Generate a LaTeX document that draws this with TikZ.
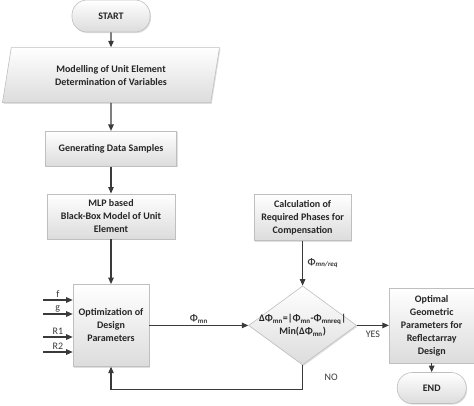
\documentclass[tikz,border=0pt]{standalone}
\usepackage{fontspec}
\setmainfont{Carlito}
\usetikzlibrary{positioning,arrows.meta,shapes.geometric,shadows}
\definecolor{Edge}{HTML}{BFBFBF}
\definecolor{Ink}{HTML}{3A3A3A}
\definecolor{Shade}{HTML}{DCDCDC}
\newcommand{\Body}{\fontsize{10}{13}\selectfont}
\tikzset{
  block/.style={draw=Edge, line width=0.6pt, top color=white, bottom color=Shade,
                align=center, inner sep=2pt, text=black!85, font=\Body\bfseries,
                drop shadow={opacity=0.25, shadow xshift=1pt, shadow yshift=-1.2pt}},
  terminal/.style={block, rounded corners=15pt},
  iobox/.style={block, trapezium, trapezium left angle=70, trapezium right angle=110,
                trapezium stretches body},
  decision/.style={block, diamond, aspect=1.37, inner sep=-2.5pt},
  flow/.style={-{Triangle[length=6.5pt,width=5.5pt]}, line width=1.1pt, Ink},
  tag/.style={font=\Body, text=Ink, inner sep=1.5pt},
}

\begin{document}
\begin{tikzpicture}
  \useasboundingbox (0,0) rectangle (474pt,-405pt);
  \node[terminal, minimum width=78pt, minimum height=32pt] (start) at (111pt,-16pt) {START};
  \node[iobox, minimum width=217pt, minimum height=55pt, below=15pt of start] (model)
    {Modelling of Unit Element\\Determination of Variables};
  \node[block, minimum width=131pt, minimum height=35pt, below=28pt of model] (gen)
    {Generating Data Samples};
  \node[block, minimum width=128pt, minimum height=45pt, below=27pt of gen] (mlp)
    {MLP based\\Black-Box Model of Unit\\Element};
  \node[block, minimum width=76pt, minimum height=82pt, below=45pt of mlp] (opt)
    {Optimization of\\Design\\Parameters};
  \node[decision, minimum width=108pt, minimum height=79pt, right=99pt of opt] (check)
    {ΔΦ\textsubscript{mn}=|Φ\textsubscript{mn}-Φ\textsubscript{mnreq}|\\Min(ΔΦ\textsubscript{mn})};
  \node[block, minimum width=97pt, minimum height=46pt, above=45pt of check] (calc)
    {Calculation of\\Required Phases for\\Compensation};
  \node[block, minimum width=85pt, minimum height=75pt, right=32pt of check] (optimal)
    {Optimal\\Geometric\\Parameters for\\Reflectarray\\Design};
  \node[terminal, minimum width=69pt, minimum height=31pt, below=9pt of optimal] (end) {END};

  \draw[flow] (start) -- (model);
  \draw[flow] (model) -- (gen);
  \draw[flow] (gen) -- (mlp);
  \draw[flow] (mlp) -- (opt);
  \foreach \nm/\y/\txt in {inf/300/f, ing/314/g, inra/337/R1, inrb/352/R2} {
    \coordinate (\nm) at (43pt,-\y pt);
    \draw[flow] (\nm) -- node[tag, above] {\txt} (\nm -| opt.west);
  }
  \draw[flow] (opt) -- node[tag, above, font=\Body\bfseries] {Φ\textsubscript{mn}} (check);
  \draw[flow] (calc) -- node[tag, right=3pt, font=\Body\bfseries] {Φ\textsubscript{\itshape mn/req}} (check);
  \draw[flow] (check) -- node[tag, below=4pt] {YES} (optimal);
  \draw[flow] (check.south) -- node[tag, right=20pt] {NO} ++(0,-24pt) -| (opt.south);
  \draw[flow] (optimal) -- (end);
\end{tikzpicture}
\end{document}
